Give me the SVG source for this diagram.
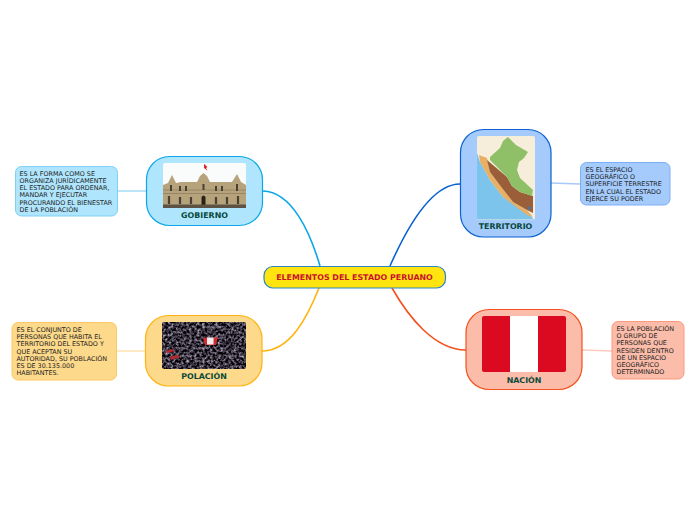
<svg xmlns="http://www.w3.org/2000/svg" width="696" height="520" viewBox="0 0 696 520">
<style>
text{font-family:"DejaVu Sans",Verdana,sans-serif}
.t{font-size:7.9px;font-weight:700;fill:#06483a;text-anchor:middle}
.s{font-size:6.4px;fill:#1c1c1c}
.c{fill:none;stroke-width:1.6}
.l{fill:none;stroke-width:1.4;opacity:.45}
</style>
<defs>
<filter id="crowd" x="0" y="0" width="1" height="1" color-interpolation-filters="sRGB">
<feTurbulence type="fractalNoise" baseFrequency="0.38" numOctaves="2" seed="7"/>
<feColorMatrix type="matrix" values="1.5 0 0 0 -0.53  1.4 0 0 0 -0.5  1.5 0 0 0 -0.5  0 0 0 0 1"/>
<feGaussianBlur stdDeviation=".35"/>
</filter>
<clipPath id="crowd-clip"><rect x="162" y="322" width="84" height="47" rx="2"/></clipPath>
<filter id="soft" x="-5%" y="-5%" width="110%" height="110%"><feGaussianBlur stdDeviation=".45"/></filter>
</defs>
<rect width="696" height="520" fill="#fff"/>
<g id="connectors">
<path class="c" stroke="#0aa7e8" d="M320 266C310 232 292 192 263 191"/>
<path class="c" stroke="#0b62d2" d="M390 266C405 232 430 184 460 184"/>
<path class="c" stroke="#ffb30f" d="M319 288C307 318 290 351 262 351"/>
<path class="c" stroke="#f4511e" d="M392 288C408 316 434 350 466 350"/>
<path class="l" stroke="#29a9ec" d="M118 191H146"/>
<path class="l" stroke="#fdc14a" d="M117 351H145"/>
<path class="l" stroke="#3f86e8" d="M551 183L580 184"/>
<path class="l" stroke="#fb8a68" d="M582 350L612 351"/>
</g>
<g id="center">
<rect x="264" y="266.500" width="181.500" height="21.500" rx="9" fill="#ffe40f" stroke="#2d86c4" stroke-width="1.200"/>
<text x="354.500" y="280" text-anchor="middle" font-size="7.900" font-weight="700" fill="#c8102e">ELEMENTOS DEL ESTADO PERUANO</text>
</g>
<g id="gobierno">
<rect x="146.500" y="156.500" width="116" height="69" rx="23" fill="#b0e6fd" stroke="#0aa7e8" stroke-width="1.200"/>
<rect x="163" y="163" width="83" height="45" rx="2" fill="#fafbfb"/>
<g filter="url(#soft)">
<path d="M163 207V185L168 183L172 175L176 183L181 182H197L200 176L203.500 173L207 176L210 182H232L237 174L241 182L246 185V207Z" fill="#b6a37c"/>
<path d="M163 190H246M163 193.500H246" stroke="#8f7f5f" stroke-width=".8"/>
<path d="M171 185V191M180 186V191M186 186V191M203.500 184V190M216 186V191M222 186V191M237 184V191" stroke="#4a4032" stroke-width="2"/>
<path d="M169 196V204M180 197V204M191 197V204M216 197V204M227 197V204M238 196V204" stroke="#4a4032" stroke-width="2.200"/>
<path d="M201.500 206.500V197Q203.500 194 205.500 197V206.500Z" fill="#2c2018"/>
<path d="M163 204.500H246V208H163Z" fill="#5b5344"/>
</g>
<path d="M204 164l3.500 3-1.500 1 1.500 2.500-3.500-2.500Z" fill="#d8232a"/>
<text class="t" x="204.500" y="218">GOBIERNO</text>
</g>
<g id="gobierno-nota">
<rect x="15.500" y="166.500" width="102" height="49.500" rx="6" fill="#b0e6fd" stroke="#7fd0f6" stroke-width="1"/>
<text class="s" x="19.500" y="176">ES LA FORMA COMO SE</text>
<text class="s" x="19.500" y="183">ORGANIZA JURÍDICAMENTE</text>
<text class="s" x="19.500" y="190">EL ESTADO PARA ORDENAR,</text>
<text class="s" x="19.500" y="197">MANDAR Y EJECUTAR</text>
<text class="s" x="19.500" y="205">PROCURANDO EL BIENESTAR</text>
<text class="s" x="19.500" y="212">DE LA POBLACIÓN</text>
</g>
<g id="poblacion">
<rect x="145.500" y="315.500" width="116.500" height="70.500" rx="23" fill="#fdd98b" stroke="#ffb30f" stroke-width="1.200"/>
<g clip-path="url(#crowd-clip)">
<rect x="162" y="322" width="84" height="47" filter="url(#crowd)"/>
<path d="M203 338L207 337.500V344L213 344L214 337.500L218 337L216 345H205Z" fill="#d42a2f"/>
<rect x="207" y="337.500" width="6.500" height="7" fill="#f3ecea"/>
<path d="M166 351l6-2 3 2-8 2ZM170 357l8-2 2 2-9 3Z" fill="#b5282e"/>
</g>
<text class="t" x="204" y="378.500">POLACIÓN</text>
</g>
<g id="poblacion-nota">
<rect x="12" y="322.500" width="104.500" height="57.500" rx="6" fill="#fdd98b" stroke="#fdc862" stroke-width="1"/>
<text class="s" x="16.500" y="332">ES EL CONJUNTO DE</text>
<text class="s" x="16.500" y="339">PERSONAS QUE HABITA EL</text>
<text class="s" x="16.500" y="346">TERRITORIO DEL ESTADO Y</text>
<text class="s" x="16.500" y="354">QUE ACEPTAN SU</text>
<text class="s" x="16.500" y="361">AUTORIDAD, SU POBLACIÓN</text>
<text class="s" x="16.500" y="368">ES DE 30.135.000</text>
<text class="s" x="16.500" y="375">HABITANTES.</text>
</g>
<g id="territorio">
<rect x="460.500" y="129.500" width="90.500" height="107.500" rx="23" fill="#a5cbfd" stroke="#0b62d2" stroke-width="1.200"/>
<rect x="477" y="136" width="58" height="84" rx="2" fill="#f6eeda"/>
<g filter="url(#soft)">
<path d="M477 153L480 162L490 180L503 197L527 212L534 219.500H479Q477 219.500 477 218Z" fill="#7cc4ec"/>
<path d="M479 155L487 158L490 172L502 188L513 202L527 210L533 217L527 215L503 197L490 180L480 162Z" fill="#e8b066"/>
<path d="M487 160L507 177L512 186L520 192L533 196L533 213L527 210L513 202L502 188L490 172Z" fill="#9a5f38"/>
<path d="M490 157L500 148L503 141L508 137L516 145L528 152L524 158L519 162L517 170L520 178L533 190L532 196L520 192L512 186L507 177L490 160Z" fill="#8fc068"/>
<circle cx="529" cy="208" r="1.500" fill="#3d78b8"/>
</g>
<text class="t" x="505.500" y="229">TERRITORIO</text>
</g>
<g id="territorio-nota">
<rect x="580.500" y="162.500" width="89.500" height="42.500" rx="6" fill="#a5cbfd" stroke="#7daef5" stroke-width="1"/>
<text class="s" x="585.500" y="172">ES EL ESPACIO</text>
<text class="s" x="585.500" y="179">GEOGRÁFICO O</text>
<text class="s" x="585.500" y="186">SUPERFICIE TERRESTRE</text>
<text class="s" x="585.500" y="194">EN LA CUAL EL ESTADO</text>
<text class="s" x="585.500" y="201">EJERCE SU PODER</text>
</g>
<g id="nacion">
<rect x="466" y="309.500" width="116" height="80" rx="23" fill="#fbbcaa" stroke="#f4511e" stroke-width="1.200"/>
<rect x="482" y="316" width="84" height="56" rx="2" fill="#dc0a20"/>
<rect x="510" y="316" width="28" height="56" fill="#fff"/>
<text class="t" x="524" y="382.500">NACIÓN</text>
</g>
<g id="nacion-nota">
<rect x="612" y="321.500" width="72" height="57.500" rx="6" fill="#fbbcaa" stroke="#fb9a7e" stroke-width="1"/>
<text class="s" x="616.500" y="331">ES LA POBLACIÓN</text>
<text class="s" x="616.500" y="338">O GRUPO DE</text>
<text class="s" x="616.500" y="345">PERSONAS QUE</text>
<text class="s" x="616.500" y="353">RESIDEN DENTRO</text>
<text class="s" x="616.500" y="360">DE UN ESPACIO</text>
<text class="s" x="616.500" y="367">GEOGRÁFICO</text>
<text class="s" x="616.500" y="374">DETERMINADO</text>
</g>
</svg>
